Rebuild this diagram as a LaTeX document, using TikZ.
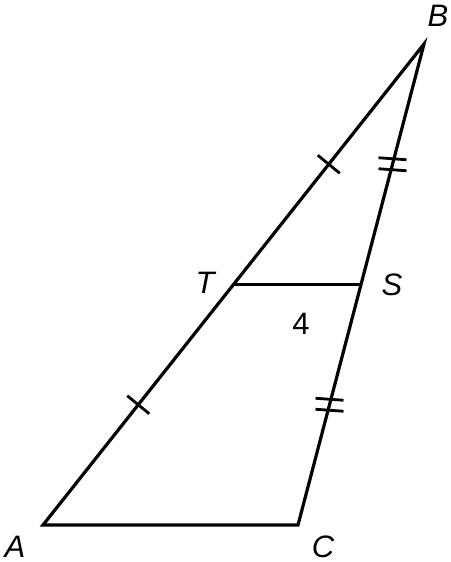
\documentclass[tikz,border=0pt]{standalone}
\usepackage{fontspec}
\setmainfont{Liberation Sans}
\usetikzlibrary{calc}

\tikzstyle{vlabel} = [font=\fontsize{31}{36}\selectfont\itshape, inner sep=0pt]
\tikzstyle{side} = [line width=3.2pt]
\tikzstyle{tickmark} = [line width=2.8pt]

\begin{document}
\begin{tikzpicture}[x=1pt, y=-1pt]
	\useasboundingbox (0,0) rectangle (450,562);
	\coordinate (A) at (43,525);
	\coordinate (C) at (298,525);
	\coordinate (B) at (424,44);
	\coordinate (T) at ($(A)!0.5!(B)$);
	\coordinate (S) at ($(C)!0.5!(B)$);
	% vertices
	\node[vlabel] (lA) at (15,547) {A};
	\node[vlabel] (lC) at (323,547) {C};
	\node[vlabel] (lB) at (438,16) {B};
	\node[vlabel] (lT) at (205,283) {T};
	\node[vlabel] (lS) at (392,285) {S};
	\node[vlabel, font=\fontsize{31}{36}\selectfont] (n4) at (301,324) {4};
	% sides
	\draw[side] (T) -- (B) -- (C) -- (A) -- cycle;
	\draw[side] (T) -- (S);
	% single ticks on AB
	\coordinate (m1) at ($(A)!0.5!(T)$);
	\coordinate (m2) at ($(T)!0.5!(B)$);
	\draw[tickmark] ([shift={(-11,-9)}]m1) -- ([shift={(11,9)}]m1);
	\draw[tickmark] ([shift={(-11,-9)}]m2) -- ([shift={(11,9)}]m2);
	% double ticks on BC
	\coordinate (m3) at ($(B)!0.5!(S)$);
	\coordinate (m4) at ($(S)!0.5!(C)$);
	\foreach \m in {m3, m4} {
		\draw[tickmark] ([shift={(-14,-6.5)}]\m) -- ([shift={(14,-4.5)}]\m);
		\draw[tickmark] ([shift={(-14,4.5)}]\m) -- ([shift={(14,6.5)}]\m);
	}
\end{tikzpicture}
\end{document}
